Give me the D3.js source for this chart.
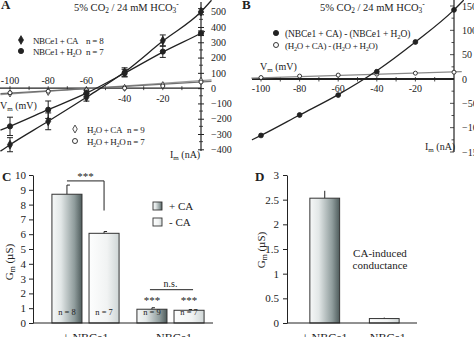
<!DOCTYPE html>
<html><head><meta charset="utf-8">
<script src="https://cdn.jsdelivr.net/npm/d3@7"></script>
<style>
body{margin:0;background:#fff}
svg{display:block;font-family:"Liberation Serif","Times New Roman",serif}
</style></head><body><div id="chart"></div>
<script>
// ---- panel A: I-V relationships
const voltsA = [-100, -80, -60, -40, -20, 0];
const caNBC = [-370, -217, -60, 105, 311, 500];
const caNBCErr = [46, 55, 25, 28, 37, 20];
const h2oNBC = [-250, -141, -33, 98, 239, 359];
const h2oNBCErr = [60, 57, 20, 25, 38, 15];
const caH2O = [-35, -25, -15, 2, 20, 48];
const h2oH2O = [-30, -20, -12, 0, 14, 40];
const fitVoltsCA = [-105, -100, -80, -60, -40, -20, 0, 5.5];
const fitCA = [-412, -370, -217, -60, 105, 308, 500, 575];
const fitVoltsH = [-105, -100, -80, -60, -40, -20, 0, 2];
const fitH2O = [-275, -250, -141, -33, 98, 236, 359, 372];
const greyVoltsA = [-105, 5.5];
const fitCAH2O = [-42, 54];
const fitH2OH2O = [-36, 44];
const yTicksA = d3.range(-400, 501, 100);

// ---- panel B: difference currents
const voltsB = [-100, -80, -60, -40, -20, 0];
const diffNBC = [-116, -74, -33, 15, 76, 142];
const diffH2O = [3, 6, 8, 10, 12, 14];
const fitVoltsB = [-104.7, -100, -80, -60, -40, -20, 0, 5];
const fitDiffNBC = [-125, -116, -74, -32, 17, 76, 142, 162];
const greyVoltsB = [-105, 4];
const fitDiffH2O = [2, 15];
const yTicksB = d3.range(-150, 151, 50);

const xLabelTicks = [-100, -80, -60, -40, -20];

// ---- panel C: conductance
const groups = ["+ NBCe1", "- NBCe1"];
const conds = ["+ CA", "- CA"];
const gmCA = [8.7, 0.93];
const gmCAErr = [0.62, 0.1];
const gmNoCA = [6.06, 0.86];
const gmNoCAErr = [0.12, 0.05];
const nCA = [8, 9];
const nNoCA = [7, 7];

// ---- panel D: CA-induced conductance
const gmInduced = [2.53, 0.09];
const gmInducedErr = [0.15, 0.02];

const W = 474, H = 337;
const ink = "#222";

const svg = d3.select("#chart").append("svg")
    .attr("width", W).attr("height", H);

const defs = svg.append("defs");
function grad(id, stops) {
    const g = defs.append("linearGradient").attr("id", id)
        .attr("x1", 0).attr("x2", 1).attr("y1", 0).attr("y2", 0);
    stops.forEach(s => g.append("stop").attr("offset", s[0]).attr("stop-color", s[1]));
}
grad("gDark", [[0, "#f6f8f8"], [0.3, "#e2e7e7"], [0.75, "#8f9c9c"], [1, "#4f5c5c"]]);
grad("gLight", [[0, "#fdfefe"], [0.6, "#f1f3f3"], [1, "#cfd6d6"]]);

// text with sub / superscripts: parts = [[text, 0|1|2]]
function rich(sel, parts, size) {
    parts.forEach(p => {
        const t = sel.append("tspan").text(p[0]);
        if (p[1] === 1) t.attr("font-size", size * 0.7).attr("baseline-shift", -2);
        if (p[1] === 2) t.attr("font-size", size * 0.7).attr("baseline-shift", 4);
    });
    return sel;
}
function label(x, y, parts, size, ls) {
    const t = svg.append("text").attr("x", x).attr("y", y)
        .attr("font-size", size).attr("fill", ink);
    if (ls) t.attr("letter-spacing", ls);
    return rich(t, parts, size);
}

const titleParts = [["5% CO", 0], ["2", 1], [" / 24 mM HCO", 0], ["3", 1], ["-", 2]];

function diamond(g, x, y, s, fill) {
    g.append("path").attr("d", d3.symbol(d3.symbolDiamond, s)())
        .attr("transform", `translate(${x},${y})`)
        .attr("fill", fill).attr("stroke", ink).attr("stroke-width", 0.8);
}
function circle(g, x, y, r, fill) {
    g.append("circle").attr("cx", x).attr("cy", y).attr("r", r)
        .attr("fill", fill).attr("stroke", ink).attr("stroke-width", 0.9);
}

// ================= Panel A
const xA = d3.scaleLinear().domain([-100, 0]).range([10, 201]);
const yA = d3.scaleLinear().domain([-400, 500]).range([149.3, 11.7]);
const gA = svg.append("g");
const lineA = d3.line().x(d => xA(d[0])).y(d => yA(d[1])).curve(d3.curveMonotoneX);

// x axis (zero current)
gA.append("line").attr("x1", 0).attr("x2", xA(0)).attr("y1", yA(0)).attr("y2", yA(0))
    .attr("stroke", ink).attr("stroke-width", 1.4);
d3.range(-100, 0, 10).forEach(v => {
    gA.append("line").attr("x1", xA(v)).attr("x2", xA(v))
        .attr("y1", yA(0) - 2).attr("y2", yA(0) + 2).attr("stroke", ink).attr("stroke-width", 0.8);
});
xLabelTicks.forEach(v => {
    const above = v <= -60;
    gA.append("text").attr("x", xA(v)).attr("y", above ? yA(0) - 4 : yA(0) + 14)
        .attr("text-anchor", "middle").attr("font-size", 10).attr("fill", ink).text(v);
});

// y axis
const yAxisA = d3.axisRight(yA).tickValues(yTicksA).tickSize(3).tickPadding(7);
const yAxG = gA.append("g").attr("transform", `translate(${xA(0)},0)`).call(yAxisA);
yAxG.select(".domain").remove();
yAxG.selectAll(".tick line").attr("x1", -3).attr("stroke", ink);
yAxG.selectAll(".tick text").attr("font-family", "Liberation Serif").attr("font-size", 10).attr("fill", ink);
gA.append("line").attr("x1", xA(0)).attr("x2", xA(0)).attr("y1", 2).attr("y2", 151)
    .attr("stroke", ink).attr("stroke-width", 1.2);
d3.range(-350, 500, 100).forEach(v => {
    gA.append("line").attr("x1", xA(0) - 2).attr("x2", xA(0) + 2)
        .attr("y1", yA(v)).attr("y2", yA(v)).attr("stroke", ink).attr("stroke-width", 0.8);
});

// grey lines for oocytes without NBCe1
[fitCAH2O, fitH2OH2O].forEach((arr, i) => {
    gA.append("path").datum(greyVoltsA.map((v, j) => [v, arr[j]]))
        .attr("d", lineA).attr("fill", "none")
        .attr("stroke", i === 0 ? "#9a9a9a" : "#6f6f6f").attr("stroke-width", 1.2);
});
voltsA.forEach((v, i) => {
    diamond(gA, xA(v), yA(caH2O[i]), 14, "#fff");
    circle(gA, xA(v), yA(h2oH2O[i]), 2, "#fff");
});

// fits for NBCe1 oocytes
gA.append("path").datum(fitVoltsCA.map((v, i) => [v, fitCA[i]]))
    .attr("d", lineA).attr("fill", "none").attr("stroke", ink).attr("stroke-width", 1.3);
gA.append("path").datum(fitVoltsH.map((v, i) => [v, fitH2O[i]]))
    .attr("d", lineA).attr("fill", "none").attr("stroke", ink).attr("stroke-width", 1.3);

function errBar(g, x, y, e, sc) {
    g.append("line").attr("x1", x).attr("x2", x).attr("y1", sc(y - e)).attr("y2", sc(y + e))
        .attr("stroke", ink).attr("stroke-width", 1);
    [y - e, y + e].forEach(v => g.append("line").attr("x1", x - 3).attr("x2", x + 3)
        .attr("y1", sc(v)).attr("y2", sc(v)).attr("stroke", ink).attr("stroke-width", 1));
}
voltsA.forEach((v, i) => {
    errBar(gA, xA(v), caNBC[i], caNBCErr[i], yA);
    errBar(gA, xA(v), h2oNBC[i], h2oNBCErr[i], yA);
    diamond(gA, xA(v), yA(caNBC[i]), 22, ink);
    circle(gA, xA(v), yA(h2oNBC[i]), 2.6, ink);
});

// labels
svg.append("text").attr("x", 1).attr("y", 9).attr("font-size", 13).attr("font-weight", "bold")
    .attr("fill", ink).text("A");
label(74, 11, titleParts, 10.5);
label(0, 109, [["V", 0], ["m", 1], [" (mV)", 0]], 10);
label(170, 158, [["I", 0], ["m", 1], [" (nA)", 0]], 10);

diamond(svg, 21, 40, 22, ink);
label(33, 43.5, [["NBCe1 + CA", 0]], 9, -0.4);
label(86, 43.5, [["n = 8", 0]], 9, -0.2);
circle(svg, 21, 51, 2.6, ink);
label(33, 54.5, [["NBCe1 + H", 0], ["2", 1], ["O", 0]], 9, -0.4);
label(86, 54.5, [["n = 7", 0]], 9, -0.2);

diamond(svg, 75, 129, 18, "#fff");
label(87, 132.5, [["H", 0], ["2", 1], ["O + CA", 0]], 9, -0.4);
label(127, 132.5, [["n = 9", 0]], 9, -0.2);
circle(svg, 75, 141, 2.5, "#fff");
label(87, 144.5, [["H", 0], ["2", 1], ["O + H", 0], ["2", 1], ["O", 0]], 9, -0.4);
label(127, 144.5, [["n = 7", 0]], 9, -0.2);

// ================= Panel B
const xB = d3.scaleLinear().domain([-100, 0]).range([261, 454]);
const yB = d3.scaleLinear().domain([-150, 150]).range([152, 6]);
const gB = svg.append("g");
const lineB = d3.line().x(d => xB(d[0])).y(d => yB(d[1])).curve(d3.curveMonotoneX);

gB.append("line").attr("x1", 252).attr("x2", xB(0)).attr("y1", yB(0)).attr("y2", yB(0))
    .attr("stroke", ink).attr("stroke-width", 1.8);
d3.range(-100, 0, 10).forEach(v => {
    gB.append("line").attr("x1", xB(v)).attr("x2", xB(v))
        .attr("y1", yB(0) - 2).attr("y2", yB(0) + 2.5).attr("stroke", ink).attr("stroke-width", 0.8);
});
xLabelTicks.forEach(v => {
    gB.append("text").attr("x", xB(v)).attr("y", yB(0) + 13)
        .attr("text-anchor", "middle").attr("font-size", 10).attr("fill", ink).text(v);
});

const yAxisB = d3.axisRight(yB).tickValues(yTicksB).tickSize(0).tickPadding(8);
const yBxG = gB.append("g").attr("transform", `translate(${xB(0)},0)`).call(yAxisB);
yBxG.select(".domain").remove();
yBxG.selectAll(".tick text").attr("font-family", "Liberation Serif").attr("font-size", 10).attr("fill", ink);
gB.append("line").attr("x1", xB(0)).attr("x2", xB(0)).attr("y1", 0).attr("y2", 152)
    .attr("stroke", ink).attr("stroke-width", 1.2);
d3.range(-150, 151, 25).forEach(v => {
    gB.append("line").attr("x1", xB(0) - (v % 50 === 0 ? 4 : 2.5)).attr("x2", xB(0))
        .attr("y1", yB(v)).attr("y2", yB(v)).attr("stroke", ink).attr("stroke-width", 0.8);
});

gB.append("path").datum(greyVoltsB.map((v, i) => [v, fitDiffH2O[i]]))
    .attr("d", lineB).attr("fill", "none").attr("stroke", "#888").attr("stroke-width", 1.2);
gB.append("path").datum(fitVoltsB.map((v, i) => [v, fitDiffNBC[i]]))
    .attr("d", lineB).attr("fill", "none").attr("stroke", ink).attr("stroke-width", 1.3);
voltsB.forEach((v, i) => {
    circle(gB, xB(v), yB(diffH2O[i]), 2, "#fff");
    circle(gB, xB(v), yB(diffNBC[i]), 2.4, ink);
});

svg.append("text").attr("x", 242).attr("y", 9).attr("font-size", 13).attr("font-weight", "bold")
    .attr("fill", ink).text("B");
label(320, 11, titleParts, 10.5);
label(260, 70, [["V", 0], ["m", 1], [" (mV)", 0]], 10);
label(425, 150, [["I", 0], ["m", 1], [" (nA)", 0]], 10);
circle(svg, 276, 33, 2.6, ink);
label(285, 36.5, [["(NBCe1 + CA) - (NBCe1 + H", 0], ["2", 1], ["O)", 0]], 9.5, -0.1);
circle(svg, 276, 45, 2.5, "#fff");
label(285, 48.5, [["(H", 0], ["2", 1], ["O + CA) - (H", 0], ["2", 1], ["O + H", 0], ["2", 1], ["O)", 0]], 9, -0.3);

// ================= Panel C
const yC = d3.scaleLinear().domain([0, 10]).range([323, 175]);
const xC = d3.scaleBand().domain(groups).range([43, 213]).paddingInner(0.21).paddingOuter(0.105);
const xCi = d3.scaleBand().domain(conds).range([0, xC.bandwidth()]).paddingInner(0.19);
const gC = svg.append("g");

const barsC = [];
groups.forEach((g, i) => {
    barsC.push({g, c: conds[0], v: gmCA[i], e: gmCAErr[i], n: nCA[i], fill: "url(#gDark)"});
    barsC.push({g, c: conds[1], v: gmNoCA[i], e: gmNoCAErr[i], n: nNoCA[i], fill: "url(#gLight)"});
});
barsC.forEach(b => {
    const x = xC(b.g) + xCi(b.c), w = xCi.bandwidth(), cx = x + w / 2;
    gC.append("line").attr("x1", cx).attr("x2", cx).attr("y1", yC(b.v)).attr("y2", yC(b.v + b.e))
        .attr("stroke", ink).attr("stroke-width", 1);
    gC.append("line").attr("x1", cx).attr("x2", cx + 3).attr("y1", yC(b.v + b.e)).attr("y2", yC(b.v + b.e))
        .attr("stroke", ink).attr("stroke-width", 1);
    gC.append("rect").attr("x", x).attr("y", yC(b.v)).attr("width", w).attr("height", yC(0) - yC(b.v))
        .attr("fill", b.fill).attr("stroke", "#333").attr("stroke-width", 1);
    gC.append("text").attr("x", cx).attr("y", yC(0) - 8.5).attr("text-anchor", "middle")
        .attr("font-size", 8.5).attr("fill", ink).text("n = " + b.n);
});

const axCy = gC.append("g").attr("transform", `translate(33,0)`)
    .call(d3.axisLeft(yC).ticks(10).tickSize(4).tickSizeOuter(0).tickPadding(3));
axCy.selectAll("text").attr("font-family", "Liberation Serif").attr("font-size", 11).attr("fill", ink);
axCy.selectAll("line,path").attr("stroke", ink);
gC.append("line").attr("x1", 33).attr("x2", 213).attr("y1", yC(0)).attr("y2", yC(0))
    .attr("stroke", ink).attr("stroke-width", 1);

// significance marks
const c1 = xC(groups[0]) + xCi(conds[0]) + xCi.bandwidth() / 2;
const c2 = xC(groups[0]) + xCi(conds[1]) + xCi.bandwidth() / 2;
const c3 = xC(groups[1]) + xCi(conds[0]) + xCi.bandwidth() / 2;
const c4 = xC(groups[1]) + xCi(conds[1]) + xCi.bandwidth() / 2;
gC.append("path").attr("d", `M${c1},${yC(9.6)}H${c2}V${yC(7.6)}`)
    .attr("fill", "none").attr("stroke", ink).attr("stroke-width", 1);
gC.append("text").attr("x", (c1 + c2) / 2).attr("y", yC(9.6) - 1).attr("text-anchor", "middle")
    .attr("font-size", 11).attr("fill", ink).text("***");
gC.append("line").attr("x1", c3 - 2).attr("x2", c4 + 4).attr("y1", yC(2.25)).attr("y2", yC(2.25))
    .attr("stroke", ink).attr("stroke-width", 1);
gC.append("text").attr("x", (c3 + c4) / 2).attr("y", yC(2.25) - 3).attr("text-anchor", "middle")
    .attr("font-size", 10).attr("fill", ink).text("n.s.");
[c3, c4].forEach(c => gC.append("text").attr("x", c).attr("y", yC(1.3))
    .attr("text-anchor", "middle").attr("font-size", 11).attr("fill", ink).text("***"));

groups.forEach(g => svg.append("text").attr("x", xC(g) + xC.bandwidth() / 2).attr("y", 342)
    .attr("text-anchor", "middle").attr("font-size", 12).attr("fill", ink).text(g));

// legend
[["url(#gDark)", conds[0]], ["url(#gLight)", conds[1]]].forEach((d, i) => {
    svg.append("rect").attr("x", 153).attr("y", 202 + i * 16).attr("width", 9).attr("height", 8)
        .attr("fill", d[0]).attr("stroke", "#333").attr("stroke-width", 0.9);
    svg.append("text").attr("x", 169).attr("y", 210 + i * 16).attr("font-size", 11)
        .attr("fill", ink).text(d[1]);
});

svg.append("text").attr("x", 2).attr("y", 181).attr("font-size", 13).attr("font-weight", "bold")
    .attr("fill", ink).text("C");
rich(svg.append("text").attr("transform", "translate(13,262) rotate(-90)")
    .attr("text-anchor", "middle").attr("font-size", 11).attr("fill", ink),
    [["G", 0], ["m", 1], [" (\u00b5S)", 0]], 11);

// ================= Panel D
const yD = d3.scaleLinear().domain([0, 3]).range([323, 175]);
const xD = d3.scaleBand().domain(groups).range([292, 417]).paddingInner(0.5).paddingOuter(0.3);
const gD = svg.append("g");
groups.forEach((g, i) => {
    const x = xD(g), w = xD.bandwidth(), cx = x + w / 2;
    const v = gmInduced[i], e = gmInducedErr[i];
    gD.append("line").attr("x1", cx).attr("x2", cx).attr("y1", yD(v)).attr("y2", yD(v + e))
        .attr("stroke", ink).attr("stroke-width", 1);
    gD.append("rect").attr("x", x).attr("y", yD(v)).attr("width", w).attr("height", yD(0) - yD(v))
        .attr("fill", i === 0 ? "url(#gDark)" : "url(#gLight)").attr("stroke", "#333").attr("stroke-width", 1);
    svg.append("text").attr("x", cx).attr("y", 342).attr("text-anchor", "middle")
        .attr("font-size", 12).attr("fill", ink).text(g);
});
const axDy = gD.append("g").attr("transform", `translate(287,0)`)
    .call(d3.axisLeft(yD).tickValues(d3.range(0, 3.01, 0.5)).tickFormat(d3.format("~g"))
        .tickSize(4).tickSizeOuter(0).tickPadding(4));
axDy.selectAll("text").attr("font-family", "Liberation Serif").attr("font-size", 11).attr("fill", ink);
axDy.selectAll("line,path").attr("stroke", ink);
gD.append("line").attr("x1", 287).attr("x2", 417).attr("y1", yD(0)).attr("y2", yD(0))
    .attr("stroke", ink).attr("stroke-width", 1);

svg.append("text").attr("x", 255).attr("y", 181).attr("font-size", 13).attr("font-weight", "bold")
    .attr("fill", ink).text("D");
rich(svg.append("text").attr("transform", "translate(265,250) rotate(-90)")
    .attr("text-anchor", "middle").attr("font-size", 11).attr("fill", ink),
    [["G", 0], ["m", 1], [" (\u00b5S)", 0]], 11);
svg.append("text").attr("x", 380).attr("y", 257).attr("text-anchor", "middle")
    .attr("font-size", 11).attr("fill", ink).text("CA-induced");
svg.append("text").attr("x", 380).attr("y", 269).attr("text-anchor", "middle")
    .attr("font-size", 11).attr("fill", ink).text("conductance");
</script></body></html>
